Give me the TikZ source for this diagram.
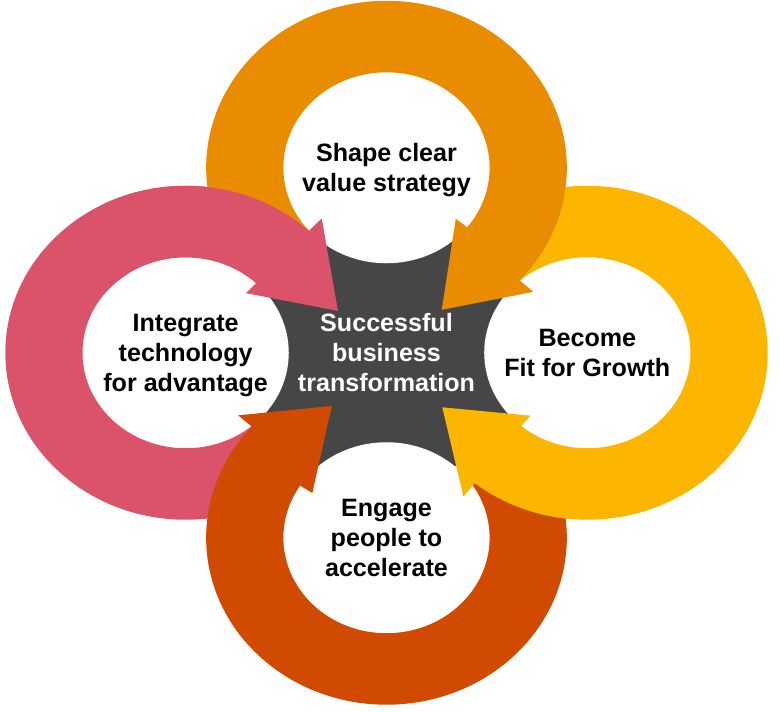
\documentclass[tikz,border=0pt]{standalone}
\usepackage{fontspec}
\setmainfont{Liberation Sans}
\definecolor{ringpink}{RGB}{219,83,106}
\definecolor{ringorange}{RGB}{234,140,0}
\definecolor{ringyellow}{RGB}{253,182,0}
\definecolor{ringrust}{RGB}{208,74,2}
\definecolor{coregray}{RGB}{70,70,70}
\newcommand{\tstrut}{\rule[-6bp]{0pt}{30bp}}
% circular arrow: centre, colour, outer base, inner base, tail, tip angle, tip radius
\newcommand{\ringarrow}[7]{%
  \fill[#2,shift={(#1)}] (#3:167) arc[start angle=#3,end angle=#5,radius=167]
    -- (#5:95.5) arc[start angle=#5,end angle=#4,radius=95.5]
    -- (#4:82) -- (#6:#7) -- (#3:184) -- cycle;}
\begin{document}
\begin{tikzpicture}[x=1.08bp,y=1bp]
     \tikzstyle{ringtext}=[font=\fontsize{25.1bp}{30bp}\selectfont\bfseries, align=center, inner sep=0pt]
     \useasboundingbox (-357.9,-359.2) rectangle (364.4,352.8);
     \coordinate (core) at (0,0);
     \coordinate (strategyc) at (0,185);
     \coordinate (growthc) at (186,0);
     \coordinate (peoplec) at (0,-185);
     \coordinate (techc) at (-186,0);
     % centre and holes
     \fill[coregray] (core) circle[radius=130];
     \foreach \c in {strategyc,growthc,peoplec,techc}
       \fill[white] (\c) circle[radius=95.5];
     % arrows, each head over the next tail
     \ringarrow{techc}{ringpink}{46.8}{46.8}{314}{16.6}{147}
     \ringarrow{peoplec}{ringrust}{138.3}{146.9}{404}{111}{141.2}
     \ringarrow{growthc}{ringyellow}{231.4}{230.1}{497}{202.1}{145}
     \ringarrow{strategyc}{ringorange}{-42.4}{-38.5}{229}{-70.2}{151}
     \begin{scope}
       \clip (-260,5) rectangle (5,200);
       \ringarrow{techc}{ringpink}{46.8}{46.8}{314}{16.6}{147}
     \end{scope}
     % labels
     \node[ringtext] (strategy) at (strategyc) {\tstrut Shape clear\\value strategy\tstrut};
     \node[ringtext] (growth) at (growthc) {\tstrut Become\\Fit for Growth\tstrut};
     \node[ringtext] (people) at (peoplec) {\tstrut Engage\\people to\\accelerate\tstrut};
     \node[ringtext] (tech) at (techc) {\tstrut Integrate\\technology\\for advantage\tstrut};
     \node[ringtext,text=white] (transform) at (core) {\tstrut Successful\\business\\transformation\tstrut};
\end{tikzpicture}
\end{document}
